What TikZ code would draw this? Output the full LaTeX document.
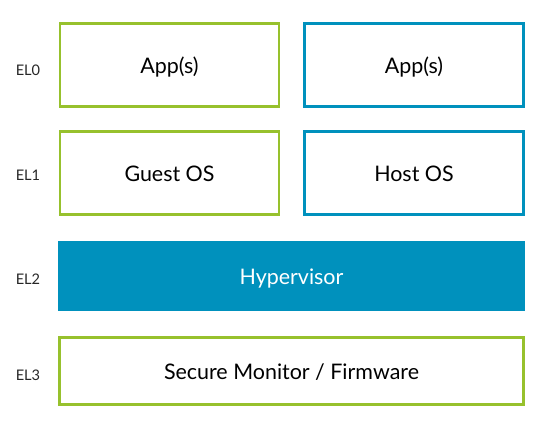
\documentclass[tikz,border=0pt]{standalone}
\usepackage{fontspec}
\setmainfont{Lato}
\usepackage{tikz}
\definecolor{armgreen}{RGB}{151, 193, 45}
\definecolor{armblue}{RGB}{0, 145, 189}
\newlength{\px}
\setlength{\px}{0.02cm}

\tikzset{
    layer/.style={line width=1.7pt, fill=white, inner sep=0pt,
                  text height=1em, text depth=0pt,
                  font=\fontsize{12.2}{14}\selectfont},
    guestbox/.style={layer, draw=armgreen, text=black,
                     minimum width=219\px, minimum height=83\px},
    hostbox/.style={layer, draw=armblue, text=black,
                    minimum width=219\px, minimum height=83\px},
    widebox/.style={layer, draw=armgreen, text=black,
                    minimum width=464\px, minimum height=67\px},
    hypbox/.style={fill=armblue, text=white, inner sep=0pt,
                   text height=1em, text depth=0pt,
                   font=\fontsize{12.2}{14}\selectfont,
                   minimum width=467\px, minimum height=70\px},
    ellabel/.style={font=\fontsize{8.3}{10}\selectfont, text=black!85}
}

\begin{document}
\begin{tikzpicture}[x=0.02cm, y=-0.02cm]
            % Frame to fix the page size
            \useasboundingbox (0, 0) rectangle (558, 424);
            % EL0 / EL1
            \node[guestbox] (appg)   at (169.5,  65) {App(s)};
            \node[hostbox]  (apph)   at (414.0,  65) {App(s)};
            \node[guestbox] (guest)  at (169.5, 173) {Guest OS};
            \node[hostbox]  (host)   at (414.0, 173) {Host OS};
            % EL2
            \node[hypbox]   (hyp)    at (291.5, 276) {Hypervisor};
            % EL3
            \node[widebox]  (secure) at (291.5, 371) {Secure Monitor / Firmware};
            % Exception levels
            \node[ellabel]  (el0) at (28,  70) {EL0};
            \node[ellabel]  (el1) at (28, 175) {EL1};
            \node[ellabel]  (el2) at (28, 279) {EL2};
            \node[ellabel]  (el3) at (28, 375) {EL3};
        \end{tikzpicture}
\end{document}
